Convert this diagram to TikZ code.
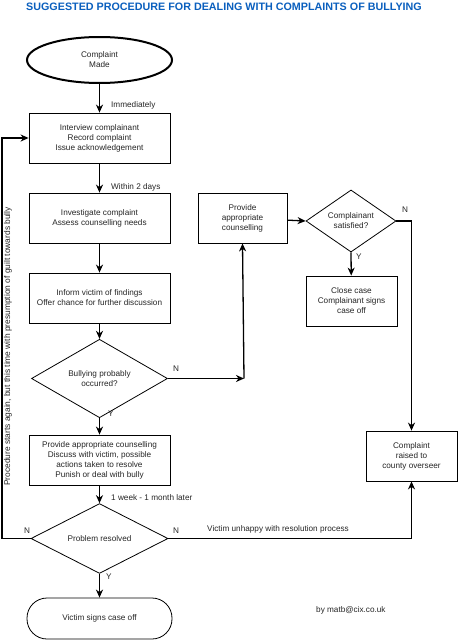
\documentclass[tikz,border=0pt]{standalone}
\usepackage{fontspec}
\setmainfont{Liberation Sans}
\usetikzlibrary{shapes.geometric,arrows.meta}
\definecolor{titleblue}{RGB}{10,95,190}
\begin{document}
\begin{tikzpicture}[x=1pt,y=-1pt,
  every node/.style={font=\fontsize{8.2}{10}\selectfont, align=center, text=black!85},
  box/.style={draw, line width=0.8pt, minimum width=141pt, minimum height=50pt, inner sep=0pt},
  sbox/.style={draw, line width=0.8pt, minimum width=90pt, minimum height=50pt, inner sep=0pt},
  dia/.style={draw, diamond, line width=0.8pt, inner sep=0pt},
  lbl/.style={anchor=west, inner sep=0pt},
  conn/.style={line width=1.3pt, -{Stealth[length=8pt,width=7pt,inset=2.5pt]}},
  plain/.style={line width=1.3pt}
]
\useasboundingbox[fill=white] (0,0) rectangle (458,640);

\node[anchor=west, inner sep=0pt, font=\fontsize{10.75}{12}\selectfont\bfseries, text=titleblue] (title) at (26,7) {SUGGESTED PROCEDURE FOR DEALING WITH COMPLAINTS OF BULLYING};

\node[draw, ellipse, line width=2pt, minimum width=145pt, minimum height=46pt, inner sep=0pt] (start) at (99.5,60) {Complaint\\Made};
\node[box] (b1) at (99.5,138) {Interview complainant\\Record complaint\\Issue acknowledgement};
\node[box] (b2) at (99.5,218) {Investigate complaint\\Assess counselling needs};
\node[box] (b3) at (99.5,298) {Inform victim of findings\\Offer chance for further discussion};
\node[dia, minimum width=136pt, minimum height=61pt] (d1) at (99.5,378.5) {Bullying probably\\occurred?};
\node[box] (b4) at (99.5,460) {Provide appropriate counselling\\Discuss with victim, possible\\actions taken to resolve\\Punish or deal with bully};
\node[dia, minimum width=137pt, minimum height=61pt] (d3) at (99.5,538.5) {Problem resolved};
\node[draw, line width=0.8pt, rounded corners=20pt, minimum width=145pt, minimum height=41pt, inner sep=0pt] (end) at (99.5,618.5) {Victim signs case off};

\node[sbox, minimum width=89pt] (counsel) at (242.5,218) {Provide\\appropriate\\counselling};
\node[dia, minimum width=90pt, minimum height=62pt] (d2) at (351,221) {Complainant\\satisfied?};
\node[sbox, minimum width=91pt] (close) at (351.5,301) {Close case\\Complainant signs\\case off};
\node[sbox, minimum width=91pt] (county) at (411.5,456) {Complaint\\raised to\\county overseer};

\coordinate (c1) at (244,378.5);
\coordinate (c2) at (county.north |- d2.east);
\coordinate (c3) at (county.south |- d3.east);
\coordinate (c4) at (2,538.5);
\coordinate (c5) at (2,138);

\draw[conn] (start) -- (b1);
\draw[conn] (b1) -- (b2);
\draw[conn] (b2) -- (b3);
\draw[conn] (b3) -- (d1);
\draw[conn] (d1.south) -- (b4);
\draw[conn] (b4) -- (d3);
\draw[conn] (d3.south) -- (end);
\draw[conn] (d1.east) -- (c1);
\draw[conn] (c1) -- (counsel.south);
\draw[conn] (counsel) -- (d2.west);
\draw[conn] (d2.south) -- (close);
\draw[conn] (d2.east) -- (c2) -- (county.north);
\draw[conn] (d3.east) -- (c3) -- (county.south);
\draw[conn] (d3.west) -- (c4) -- (c5) -- (b1.west);

\node[lbl] (l1) at (111,105) {Immediately};
\node[lbl] (l2) at (111,187) {Within 2 days};
\node[lbl] (l3) at (108,414) {Y};
\node[lbl] (l4) at (111,498) {1 week - 1 month later};
\node[lbl] (l5) at (173,369) {N};
\node[lbl] (l6) at (402,210) {N};
\node[lbl] (l7) at (356,257) {Y};
\node[lbl] (l8) at (24,531) {N};
\node[lbl] (l9) at (173,531) {N};
\node[lbl] (l10) at (207,529) {Victim unhappy with resolution process};
\node[lbl] (l11) at (106,577) {Y};
\node[lbl] (l12) at (316,610) {by matb@cix.co.uk};
\node[rotate=90, inner sep=0pt, font=\fontsize{8.4}{10}\selectfont] (side) at (8,346.5) {Procedure starts again, but this time with presumption of guilt towards bully};
\end{tikzpicture}
\end{document}
